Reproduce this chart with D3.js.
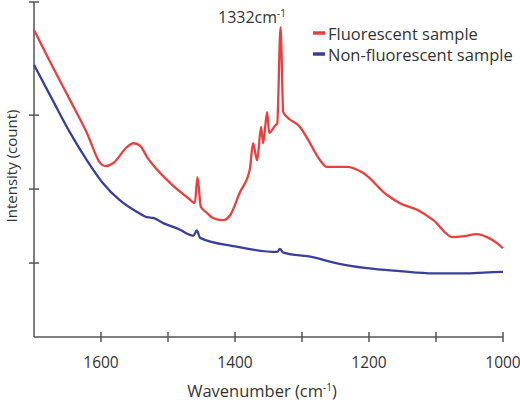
<!DOCTYPE html>
<html>
<head>
<meta charset="utf-8">
<script src="https://cdn.jsdelivr.net/npm/d3@7"></script>
<style>
  body { margin: 0; background: #fff; }
  svg { font-family: "Open Sans", sans-serif; }
</style>
</head>
<body>
<div id="chart"></div>
<script>
// wavenumber (cm-1) and intensity (arbitrary units, one unit per y tick)
var fluorWn = [1700, 1672, 1646, 1621, 1601, 1594, 1582, 1561, 1552, 1542, 1531, 1516, 1493, 1470, 1460, 1456, 1451,
  1442, 1433, 1418, 1407, 1393, 1378, 1373, 1367, 1361, 1358, 1352, 1349, 1340, 1337, 1332, 1328, 1322,
  1303, 1293, 1273, 1263, 1248, 1233, 1209, 1173, 1154, 1128, 1104, 1075, 1060, 1039, 1024, 1009, 1000];
var fluorInt = [4.15, 3.65, 3.20, 2.76, 2.35, 2.31, 2.35, 2.57, 2.62, 2.59, 2.43, 2.26, 2.05, 1.88, 1.81, 2.16, 1.76,
  1.68, 1.61, 1.58, 1.65, 1.95, 2.26, 2.62, 2.39, 2.84, 2.62, 3.04, 2.76, 2.86, 2.89, 4.19, 3.04, 2.97,
  2.84, 2.70, 2.39, 2.30, 2.30, 2.30, 2.22, 1.92, 1.81, 1.72, 1.58, 1.35, 1.36, 1.39, 1.35, 1.27, 1.20];

var nonWn = [1700, 1672, 1646, 1621, 1597, 1572, 1546, 1531, 1522, 1507, 1482, 1467, 1462, 1457, 1452,
  1403, 1337, 1333, 1328, 1284, 1254, 1203, 1154, 1104, 1054, 1004, 1000];
var nonInt = [3.68, 3.20, 2.76, 2.39, 2.08, 1.85, 1.69, 1.62, 1.61, 1.54, 1.45, 1.38, 1.37, 1.44, 1.34,
  1.23, 1.15, 1.19, 1.14, 1.08, 1.01, 0.93, 0.89, 0.86, 0.86, 0.88, 0.88];

var xTicks = [1600, 1500, 1400, 1300, 1200, 1100, 1000];
var xLabels = [1600, 1400, 1200, 1000];
var yTicks = [1, 2, 3, 4.53];

var W = 520, H = 403;
var m = { left: 34, right: 17, top: 2, bottom: 66 };

var svg = d3.select('#chart').append('svg')
  .attr('width', W).attr('height', H);

var x = d3.scaleLinear().domain([1700, 1000]).range([m.left, W - m.right]);
var y = d3.scaleLinear().domain([0, 4.53]).range([H - m.bottom, m.top]);

var axisColor = '#555';

// x axis, ticks cross the line
var gx = svg.append('g').attr('transform', 'translate(0,' + (H - m.bottom) + ')');
gx.append('line').attr('x1', x(1700)).attr('x2', x(1000)).attr('stroke', axisColor).attr('stroke-width', 1.5);
gx.selectAll('.tk').data(xTicks).enter().append('line')
  .attr('x1', function (d) { return x(d); }).attr('x2', function (d) { return x(d); })
  .attr('y1', -5).attr('y2', 5)
  .attr('stroke', axisColor).attr('stroke-width', 1.5);
gx.selectAll('.lb').data(xLabels).enter().append('text')
  .attr('x', function (d) { return x(d); }).attr('y', 31)
  .attr('text-anchor', 'middle')
  .attr('font-size', 15.5).attr('fill', '#333')
  .text(function (d) { return d; });

// y axis
var gy = svg.append('g').attr('transform', 'translate(' + m.left + ',0)');
gy.append('line').attr('y1', y(0)).attr('y2', y(4.53)).attr('stroke', axisColor).attr('stroke-width', 1.5);
gy.selectAll('.tk').data(yTicks).enter().append('line')
  .attr('y1', function (d) { return y(d); }).attr('y2', function (d) { return y(d); })
  .attr('x1', -5).attr('x2', 5)
  .attr('stroke', axisColor).attr('stroke-width', 1.5);

// axis titles
var xt = svg.append('text')
  .attr('x', 262).attr('y', 397)
  .attr('text-anchor', 'middle').attr('font-size', 16.5).attr('fill', '#333');
xt.append('tspan').text('Wavenumber (cm');
xt.append('tspan').attr('font-size', 10).attr('dy', -6).text('-1');
xt.append('tspan').attr('dy', 6).text(')');

svg.append('text')
  .attr('transform', 'translate(17,166) rotate(-90)')
  .attr('text-anchor', 'middle').attr('font-size', 15).attr('fill', '#333')
  .text('Intensity (count)');

// lines
var line = d3.line()
  .x(function (d) { return x(d[0]); })
  .y(function (d) { return y(d[1]); })
  .curve(d3.curveMonotoneX);

var series = [
  { name: 'Fluorescent sample', color: '#e8403f', wn: fluorWn, val: fluorInt },
  { name: 'Non-fluorescent sample', color: '#3a3f99', wn: nonWn, val: nonInt }
];

series.slice().reverse().forEach(function (s) {
  var pts = s.wn.map(function (w, i) { return [w, s.val[i]]; });
  svg.append('path').datum(pts)
    .attr('d', line)
    .attr('fill', 'none')
    .attr('stroke', s.color)
    .attr('stroke-width', 2.3)
    .attr('stroke-linejoin', 'round');
});

// peak label
var pk = svg.append('text')
  .attr('x', 218).attr('y', 23).attr('font-size', 16).attr('fill', '#333');
pk.append('tspan').text('1332cm');
pk.append('tspan').attr('font-size', 10).attr('dy', -6).text('-1');

// legend
var lg = svg.append('g').attr('transform', 'translate(313,33)');
series.forEach(function (s, i) {
  var row = lg.append('g').attr('transform', 'translate(0,' + (i * 21) + ')');
  row.append('line').attr('x1', 0).attr('x2', 12)
    .attr('stroke', s.color).attr('stroke-width', 3.5);
  row.append('text').attr('x', 15).attr('y', 6.5)
    .attr('font-size', 16.5).attr('fill', '#333').text(s.name);
});
</script>
</body>
</html>
